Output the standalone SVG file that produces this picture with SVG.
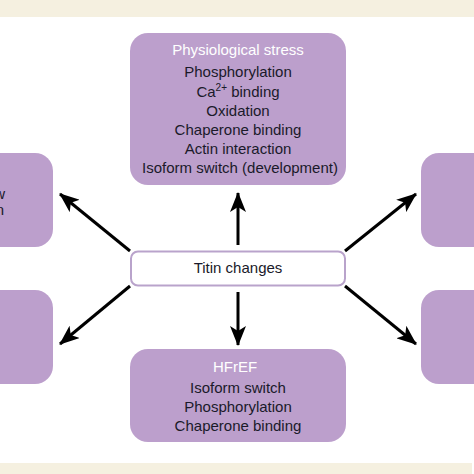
<svg xmlns="http://www.w3.org/2000/svg" width="474" height="474" viewBox="0 0 474 474">
<defs>
<style>
.box{fill:#bc9fcc;}
.title{font-family:"Liberation Sans",Arial,sans-serif;font-size:15px;fill:#ffffff;text-anchor:middle;}
.txt{font-family:"Liberation Sans",Arial,sans-serif;font-size:15px;fill:#1a1a2a;text-anchor:middle;}
.arrow{stroke:#000;stroke-width:3;fill:none;marker-end:url(#ah);}
</style>
<marker id="ah" viewBox="0 0 20 16" refX="19" refY="8" markerWidth="20" markerHeight="16" markerUnits="userSpaceOnUse" orient="auto">
<path d="M0,0 L20,8 L0,16 L5,8 Z" fill="#000"/>
</marker>
</defs>
<rect x="0" y="0" width="474" height="474" fill="#ffffff"/>
<rect x="0" y="0" width="474" height="17" fill="#f5f0e0"/>
<rect x="0" y="463" width="472" height="11" fill="#f5f0e0"/>

<g id="connectors">
<line class="arrow" x1="238" y1="245" x2="238" y2="193"/>
<line class="arrow" x1="238" y1="292" x2="238" y2="345"/>
<line class="arrow" x1="130" y1="251" x2="60" y2="194"/>
<line class="arrow" x1="345" y1="251" x2="416" y2="194"/>
<line class="arrow" x1="130" y1="286" x2="60" y2="344"/>
<line class="arrow" x1="345" y1="286" x2="416" y2="344"/>
</g>

<g id="physiological">
<rect class="box" x="130" y="33" width="216" height="152" rx="18"/>
<text class="title" x="238" y="55">Physiological stress</text>
<text class="txt" x="238" y="77">Phosphorylation</text>
<text class="txt" x="238" y="97">Ca<tspan font-size="10" dy="-6">2+</tspan><tspan dy="6"> binding</tspan></text>
<text class="txt" x="238" y="116">Oxidation</text>
<text class="txt" x="238" y="135">Chaperone binding</text>
<text class="txt" x="238" y="154">Actin interaction</text>
<text class="txt" x="240" y="173">Isoform switch (development)</text>
</g>

<g id="left-top">
<rect class="box" x="-40" y="153" width="93" height="94" rx="18"/>
<text class="txt" x="5" y="199" style="text-anchor:end">w</text>
<text class="txt" x="4" y="215" style="text-anchor:end">n</text>
</g>

<g id="right-top">
<rect class="box" x="421" y="153" width="93" height="94" rx="18"/>
</g>

<g id="left-bottom">
<rect class="box" x="-40" y="290" width="93" height="94" rx="18"/>
</g>

<g id="right-bottom">
<rect class="box" x="421" y="290" width="93" height="94" rx="18"/>
</g>

<g id="titin">
<rect x="131" y="251.5" width="214" height="34" rx="7" fill="#ffffff" stroke="#b9a3cb" stroke-width="2"/>
<text class="txt" x="238" y="273">Titin changes</text>
</g>

<g id="hfref">
<rect class="box" x="130" y="349" width="216" height="93" rx="18"/>
<text class="title" x="235" y="372">HFrEF</text>
<text class="txt" x="238" y="393">Isoform switch</text>
<text class="txt" x="238" y="412">Phosphorylation</text>
<text class="txt" x="238" y="431">Chaperone binding</text>
</g>
</svg>
